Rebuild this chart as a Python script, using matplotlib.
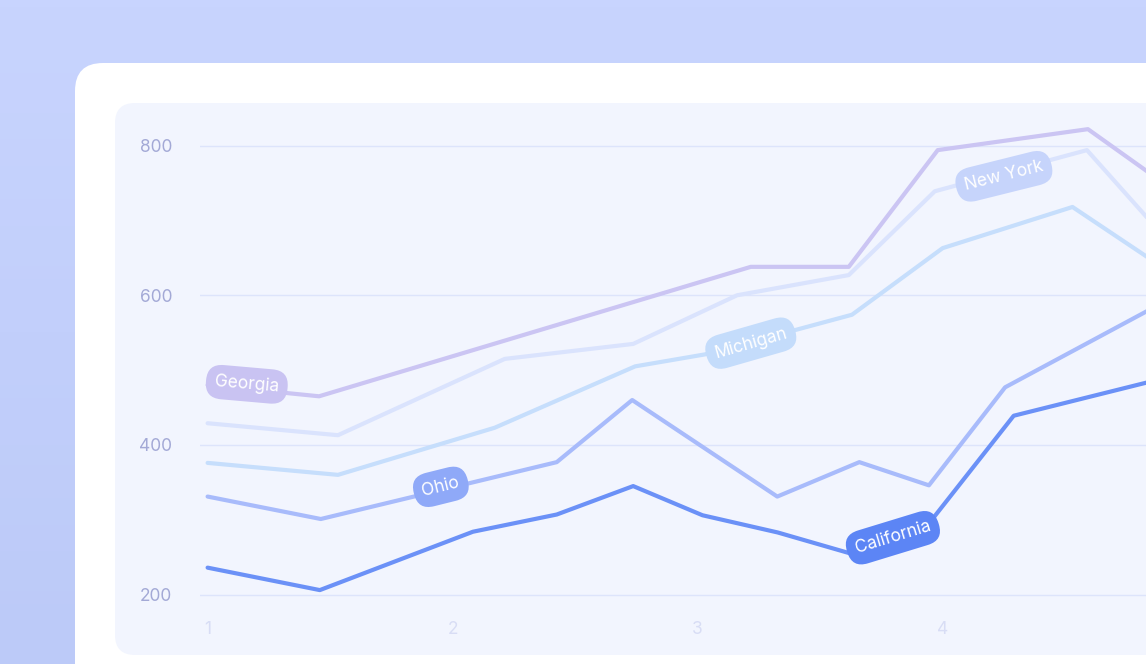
import numpy as np
import matplotlib.pyplot as plt
from matplotlib.patches import FancyBboxPatch
from matplotlib.colors import LinearSegmentedColormap

plt.rcParams['font.family'] = ['Inter', 'DejaVu Sans']

# series, each with its own x vertices
georgia_x = [1.0, 1.455, 3.217, 3.617, 3.98, 4.593, 5.0]
georgia_y = [480, 465, 638, 638, 794, 822, 727]
newyork_x = [1.0, 1.532, 2.213, 2.737, 3.161, 3.617, 3.968, 4.589, 5.0]
newyork_y = [429, 413, 515, 535, 600, 627, 739, 794, 643]
michigan_x = [1.0, 1.532, 2.172, 2.745, 3.03, 3.63, 4.0, 4.53, 5.0]
michigan_y = [376, 360, 423, 505, 521, 574, 663, 718, 615]
ohio_x = [1.0, 1.462, 2.425, 2.733, 3.325, 3.66, 3.944, 4.255, 5.0]
ohio_y = [331, 301, 377, 460, 331, 377, 346, 477, 608]
california_x = [1.0, 1.458, 2.083, 2.425, 2.737, 3.02, 3.327, 3.655, 3.92, 4.29, 5.0]
california_y = [236, 206, 284, 307, 345, 306, 283, 252, 285, 439, 497]

series = [
    ("Georgia", georgia_x, georgia_y, "#cbc5f3", "#c9c3f2", (1.16, 481), -5),
    ("New York", newyork_x, newyork_y, "#dae3fd", "#c6d4fb", (4.25, 759), 14),
    ("Michigan", michigan_x, michigan_y, "#c6defc", "#c4dcfb", (3.217, 536), 16),
    ("Ohio", ohio_x, ohio_y, "#a8bbfb", "#8fa9f8", (1.952, 344), 14),
    ("California", california_x, california_y, "#6b91f7", "#5c85f5", (3.797, 276), 17),
]
y_ticks = [200, 400, 600, 800]
x_ticks = [1, 2, 3, 4]

W, H = 1146, 664
fig = plt.figure(figsize=(W / 100, H / 100), dpi=100)

# background: gradient, white card, light panel
bg = fig.add_axes([0, 0, 1, 1])
bg.set_xlim(0, W)
bg.set_ylim(H, 0)
bg.axis("off")
cmap = LinearSegmentedColormap.from_list("bg", ["#c8d4fe", "#bccaf8"])
bg.imshow(np.linspace(0, 1, 100).reshape(-1, 1), cmap=cmap, aspect="auto",
          extent=(0, W, H, 0))
bg.add_patch(FancyBboxPatch((75, 63), W + 100, H, boxstyle="round,pad=0,rounding_size=28",
                            fc="white", ec="none"))
bg.add_patch(FancyBboxPatch((115, 103), W + 100, 552, boxstyle="round,pad=0,rounding_size=20",
                            fc="#f2f5fe", ec="none"))

ax = fig.add_axes([200 / W, 1 - 610 / H, 1 - 200 / W, 500 / H])
ax.patch.set_alpha(0)
ax.set_xlim(0.969, 4.83)
ax.set_ylim(179.4, 847.6)
for s in ax.spines.values():
    s.set_visible(False)
ax.set_yticks(y_ticks)
ax.set_xticks(x_ticks)
ax.grid(axis="y", color="#dde4fb", lw=1)
ax.tick_params(length=0)
ax.tick_params(axis="y", labelsize=12.5, labelcolor="#a3a9d6", pad=20)
ax.tick_params(axis="x", labelsize=12.5, labelcolor="#d8ddf5", pad=8)

for name, xs, ys, lc, bc, (lx, ly), rot in series:
    ax.plot(xs, ys, color=lc, lw=3, solid_capstyle="round", solid_joinstyle="round")
for name, xs, ys, lc, bc, (lx, ly), rot in series:
    ax.text(lx, ly, name, rotation=rot, rotation_mode="anchor", ha="center", va="center",
            color="white", fontsize=12.5,
            bbox=dict(boxstyle="round,pad=0.5,rounding_size=0.95", fc=bc, ec="none"))

fig.savefig("out.png", dpi=100)
